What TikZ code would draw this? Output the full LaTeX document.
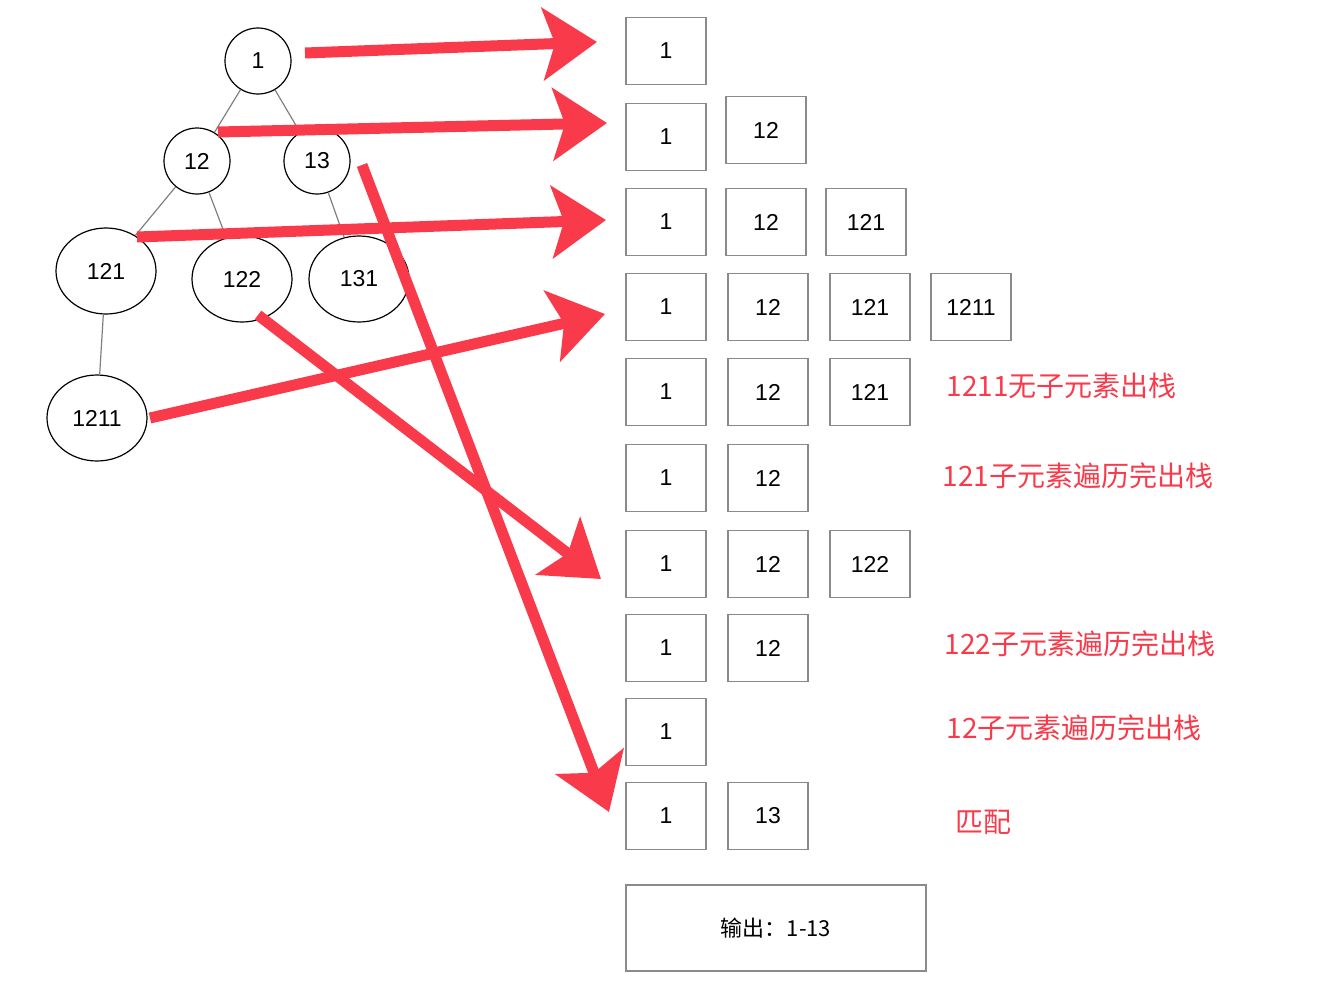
\documentclass[tikz,border=0pt]{standalone}
\usepackage{fontspec}
\setmainfont{Liberation Sans}
\newfontfamily\cjk{Noto Sans CJK SC}
\usetikzlibrary{arrows.meta,shapes.geometric}
\definecolor{rd}{HTML}{F93A4A}
\definecolor{bx}{HTML}{8A8A8A}
\tikzset{
 tn/.style={draw,ellipse,line width=1.2pt,inner sep=0pt,font=\fontsize{23}{25}\selectfont},
 sb/.style={draw=bx,line width=1.2pt,minimum width=80pt,minimum height=67pt,inner sep=0pt,font=\fontsize{23}{25}\selectfont},
 te/.style={draw=gray,line width=1.2pt},
 lb/.style={text=rd,anchor=west,font=\cjk\fontsize{28}{30}\selectfont},
 ra/.style={draw=rd,line width=11pt,-{Stealth[length=54pt 0,width=72pt 0,inset=12pt 0]}}
}
\begin{document}
\begin{tikzpicture}[x=1pt,y=-1pt]
\useasboundingbox (0,0) rectangle (1340,998);
% tree
\node[tn,minimum width=66pt,minimum height=66pt] (n1) at (258,61) {1};
\node[tn,minimum width=66pt,minimum height=66pt] (n12) at (197,161) {12};
\node[tn,minimum width=66pt,minimum height=66pt] (n13) at (317,161) {13};
\node[tn,minimum width=100pt,minimum height=86pt] (n121) at (106,271) {121};
\node[tn,minimum width=100pt,minimum height=86pt] (n122) at (242,279) {122};
\node[tn,minimum width=100pt,minimum height=86pt] (n131) at (359,279) {131};
\node[tn,minimum width=100pt,minimum height=86pt] (n1211) at (97,418) {1211};
\draw[te] (n1) -- (n12);
\draw[te] (n1) -- (n13);
\draw[te] (n12) -- (n121);
\draw[te] (n12) -- (n122);
\draw[te] (n13) -- (n131);
\draw[te] (n121) -- (n1211);
% stacks
\node[sb] (r1a) at (666,51) {1};
\node[sb] (r2a) at (666,137) {1};
\node[sb] (r2b) at (766,130) {12};
\node[sb] (r3a) at (666,222) {1};
\node[sb] (r3b) at (766,222) {12};
\node[sb] (r3c) at (866,222) {121};
\node[sb] (r4a) at (666,307) {1};
\node[sb] (r4b) at (768,307) {12};
\node[sb] (r4c) at (870,307) {121};
\node[sb] (r4d) at (971,307) {1211};
\node[sb] (r5a) at (666,392) {1};
\node[sb] (r5b) at (768,392) {12};
\node[sb] (r5c) at (870,392) {121};
\node[sb] (r6a) at (666,478) {1};
\node[sb] (r6b) at (768,478) {12};
\node[sb] (r7a) at (666,564) {1};
\node[sb] (r7b) at (768,564) {12};
\node[sb] (r7c) at (870,564) {122};
\node[sb] (r8a) at (666,648) {1};
\node[sb] (r8b) at (768,648) {12};
\node[sb] (r9a) at (666,732) {1};
\node[sb] (r10a) at (666,816) {1};
\node[sb] (r10b) at (768,816) {13};
\node[sb,minimum width=300pt,minimum height=86pt,font=\cjk\fontsize{22}{24}\selectfont] (out) at (776,928) {输出：1-13};
% labels
\node[lb] (l5) at (943,386) {1211无子元素出栈};
\node[lb] (l6) at (939,476) {121子元素遍历完出栈};
\node[lb] (l8) at (941,644) {122子元素遍历完出栈};
\node[lb] (l9) at (943,728) {12子元素遍历完出栈};
\node[lb] (l10) at (952,822) {匹配};
% arrows
\coordinate (s1) at (305,53); \coordinate (t1) at (597,42);
\coordinate (s2) at (218,132); \coordinate (t2) at (607,123);
\coordinate (s3) at (137,237); \coordinate (t3) at (606,220);
\coordinate (s4) at (150,418); \coordinate (t4) at (605,314);
\coordinate (s5) at (258,315); \coordinate (t5) at (601,579);
\coordinate (s6) at (362,165); \coordinate (t6) at (609,812);
\draw[ra] (s1) -- (t1);
\draw[ra] (s2) -- (t2);
\draw[ra] (s3) -- (t3);
\draw[ra] (s4) -- (t4);
\draw[ra] (s5) -- (t5);
\draw[ra] (s6) -- (t6);
\end{tikzpicture}
\end{document}
